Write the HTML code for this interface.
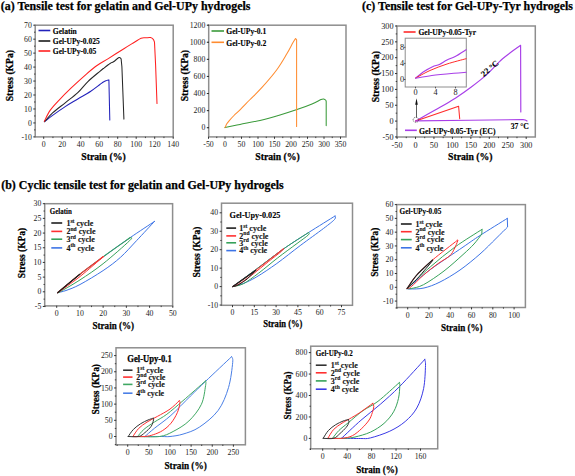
<!DOCTYPE html><html><head><meta charset="utf-8"><style>html,body{margin:0;padding:0;background:#fff;width:575px;height:476px;overflow:hidden}svg{display:block}text{font-family:"Liberation Serif",serif}</style></head><body>
<svg width="575" height="476" viewBox="0 0 575 476">
<rect width="575" height="476" fill="#fff"/>
<text x="0.8" y="10" font-size="12.2" font-weight="bold" stroke="#000" stroke-width="0.25" textLength="249.6" lengthAdjust="spacingAndGlyphs">(a) Tensile test for gelatin and Gel-UPy hydrogels</text>
<text x="362.1" y="9.7" font-size="12.2" font-weight="bold" stroke="#000" stroke-width="0.25" textLength="210.8" lengthAdjust="spacingAndGlyphs">(c) Tensile test for Gel-UPy-Tyr hydrogels</text>
<text x="1.25" y="189.2" font-size="12.2" font-weight="bold" stroke="#000" stroke-width="0.25" textLength="282.5" lengthAdjust="spacingAndGlyphs">(b) Cyclic tensile test for gelatin and Gel-UPy hydrogels</text>
<rect x="35.2" y="25.2" width="138" height="111.7" fill="none" stroke="#8e8e8e" stroke-width="1.5"/>
<line x1="43.7" y1="136.7" x2="43.7" y2="138.8" stroke="#333333" stroke-width="1"/>
<text x="43.7" y="146.9" font-size="7.8" text-anchor="middle" fill="#222222">0</text>
<line x1="62.2" y1="136.7" x2="62.2" y2="138.8" stroke="#333333" stroke-width="1"/>
<text x="62.2" y="146.9" font-size="7.8" text-anchor="middle" fill="#222222">20</text>
<line x1="80.7" y1="136.7" x2="80.7" y2="138.8" stroke="#333333" stroke-width="1"/>
<text x="80.7" y="146.9" font-size="7.8" text-anchor="middle" fill="#222222">40</text>
<line x1="99.2" y1="136.7" x2="99.2" y2="138.8" stroke="#333333" stroke-width="1"/>
<text x="99.2" y="146.9" font-size="7.8" text-anchor="middle" fill="#222222">60</text>
<line x1="117.7" y1="136.7" x2="117.7" y2="138.8" stroke="#333333" stroke-width="1"/>
<text x="117.7" y="146.9" font-size="7.8" text-anchor="middle" fill="#222222">80</text>
<line x1="136.2" y1="136.7" x2="136.2" y2="138.8" stroke="#333333" stroke-width="1"/>
<text x="136.2" y="146.9" font-size="7.8" text-anchor="middle" fill="#222222">100</text>
<line x1="154.7" y1="136.7" x2="154.7" y2="138.8" stroke="#333333" stroke-width="1"/>
<text x="154.7" y="146.9" font-size="7.8" text-anchor="middle" fill="#222222">120</text>
<line x1="173.2" y1="136.7" x2="173.2" y2="138.8" stroke="#333333" stroke-width="1"/>
<text x="173.2" y="146.9" font-size="7.8" text-anchor="middle" fill="#222222">140</text>
<line x1="52.95" y1="136.7" x2="52.95" y2="138.1" stroke="#333333" stroke-width="0.9"/>
<line x1="71.45" y1="136.7" x2="71.45" y2="138.1" stroke="#333333" stroke-width="0.9"/>
<line x1="89.95" y1="136.7" x2="89.95" y2="138.1" stroke="#333333" stroke-width="0.9"/>
<line x1="108.45" y1="136.7" x2="108.45" y2="138.1" stroke="#333333" stroke-width="0.9"/>
<line x1="126.95" y1="136.7" x2="126.95" y2="138.1" stroke="#333333" stroke-width="0.9"/>
<line x1="145.45" y1="136.7" x2="145.45" y2="138.1" stroke="#333333" stroke-width="0.9"/>
<line x1="163.95" y1="136.7" x2="163.95" y2="138.1" stroke="#333333" stroke-width="0.9"/>
<line x1="33.3" y1="136.9" x2="35.4" y2="136.9" stroke="#333333" stroke-width="1"/>
<text x="31.8" y="139.55" font-size="7.8" text-anchor="end" fill="#222222">-10</text>
<line x1="33.3" y1="122.94" x2="35.4" y2="122.94" stroke="#333333" stroke-width="1"/>
<text x="31.8" y="125.59" font-size="7.8" text-anchor="end" fill="#222222">0</text>
<line x1="33.3" y1="108.98" x2="35.4" y2="108.98" stroke="#333333" stroke-width="1"/>
<text x="31.8" y="111.63" font-size="7.8" text-anchor="end" fill="#222222">10</text>
<line x1="33.3" y1="95.01" x2="35.4" y2="95.01" stroke="#333333" stroke-width="1"/>
<text x="31.8" y="97.66" font-size="7.8" text-anchor="end" fill="#222222">20</text>
<line x1="33.3" y1="81.05" x2="35.4" y2="81.05" stroke="#333333" stroke-width="1"/>
<text x="31.8" y="83.7" font-size="7.8" text-anchor="end" fill="#222222">30</text>
<line x1="33.3" y1="67.09" x2="35.4" y2="67.09" stroke="#333333" stroke-width="1"/>
<text x="31.8" y="69.74" font-size="7.8" text-anchor="end" fill="#222222">40</text>
<line x1="33.3" y1="53.12" x2="35.4" y2="53.12" stroke="#333333" stroke-width="1"/>
<text x="31.8" y="55.78" font-size="7.8" text-anchor="end" fill="#222222">50</text>
<line x1="33.3" y1="39.16" x2="35.4" y2="39.16" stroke="#333333" stroke-width="1"/>
<text x="31.8" y="41.81" font-size="7.8" text-anchor="end" fill="#222222">60</text>
<line x1="33.3" y1="25.2" x2="35.4" y2="25.2" stroke="#333333" stroke-width="1"/>
<text x="31.8" y="27.85" font-size="7.8" text-anchor="end" fill="#222222">70</text>
<line x1="34" y1="129.92" x2="35.4" y2="129.92" stroke="#333333" stroke-width="0.9"/>
<line x1="34" y1="115.96" x2="35.4" y2="115.96" stroke="#333333" stroke-width="0.9"/>
<line x1="34" y1="101.99" x2="35.4" y2="101.99" stroke="#333333" stroke-width="0.9"/>
<line x1="34" y1="88.03" x2="35.4" y2="88.03" stroke="#333333" stroke-width="0.9"/>
<line x1="34" y1="74.07" x2="35.4" y2="74.07" stroke="#333333" stroke-width="0.9"/>
<line x1="34" y1="60.11" x2="35.4" y2="60.11" stroke="#333333" stroke-width="0.9"/>
<line x1="34" y1="46.14" x2="35.4" y2="46.14" stroke="#333333" stroke-width="0.9"/>
<line x1="34" y1="32.18" x2="35.4" y2="32.18" stroke="#333333" stroke-width="0.9"/>
<text x="103.5" y="160" font-size="9.7" font-weight="bold" stroke="#000" stroke-width="0.25" text-anchor="middle" textLength="44.5" lengthAdjust="spacingAndGlyphs">Strain (%)</text>
<text x="13.5" y="75.7" font-size="9.7" font-weight="bold" stroke="#000" stroke-width="0.25" text-anchor="middle" textLength="51.2" lengthAdjust="spacingAndGlyphs" transform="rotate(-90 13.5 75.7)">Stress (KPa)</text>
<path d="M44.4 121.7C45.77 120.65 49.13 117.92 52.6 115.4C56.07 112.88 61 109.33 65.2 106.6C69.4 103.87 73.6 101.52 77.8 99C82 96.48 86.72 93.92 90.4 91.5C94.08 89.08 97.73 86.08 99.9 84.5C102.07 82.92 102.4 82.63 103.4 82C104.4 81.37 104.98 81.05 105.9 80.7C106.82 80.35 108.4 80.03 108.9 79.9L109.8 119.9" fill="none" stroke="#2222bb" stroke-width="1.05" stroke-linejoin="round" stroke-linecap="round"/>
<path d="M44.4 121.7C45.77 120.23 49.13 116.05 52.6 112.9C56.07 109.75 61 106.17 65.2 102.8C69.4 99.43 74.02 96.23 77.8 92.7C81.58 89.17 84.22 85.17 87.9 81.6C91.58 78.03 97.32 73.48 99.9 71.3C102.48 69.12 101.7 69.8 103.4 68.5C105.1 67.2 108.42 64.62 110.1 63.5C111.78 62.38 112.02 62.78 113.5 61.8C114.98 60.82 117.73 58.1 119 57.6C120.27 57.1 120.75 58.6 121.1 58.8L121.9 66.8L123.9 119.1" fill="none" stroke="#262626" stroke-width="1.05" stroke-linejoin="round" stroke-linecap="round"/>
<path d="M44.4 121.2C45.35 119.4 47.68 113.88 50.1 110.4C52.52 106.92 55.33 104.08 58.9 100.3C62.47 96.52 66.87 92.12 71.5 87.7C76.13 83.28 82.45 77.5 86.7 73.8C90.95 70.1 93.4 68.03 97 65.5C100.6 62.97 103.82 61.4 108.3 58.6C112.78 55.8 119.62 51.38 123.9 48.7C128.18 46.02 131.13 44.25 134 42.5C136.87 40.75 139.1 38.98 141.1 38.2C143.1 37.42 144.43 37.9 146 37.8C147.57 37.7 149.28 37.35 150.5 37.6C151.72 37.85 152.63 38.53 153.3 39.3C153.97 40.07 154.3 41.72 154.5 42.2L155.6 65L157 103.5" fill="none" stroke="#ff2020" stroke-width="1.05" stroke-linejoin="round" stroke-linecap="round"/>
<line x1="38.5" y1="30.5" x2="50.3" y2="30.5" stroke="#2222bb" stroke-width="1.6"/>
<line x1="38.5" y1="41" x2="50.3" y2="41" stroke="#1a1a1a" stroke-width="1.6"/>
<line x1="38.5" y1="51" x2="50.3" y2="51" stroke="#ff2020" stroke-width="1.6"/>
<text x="52.8" y="33.8" font-size="7.7" font-weight="bold" stroke="#000" stroke-width="0.12" textLength="24" lengthAdjust="spacingAndGlyphs">Gelatin</text>
<text x="52.8" y="44" font-size="7.7" font-weight="bold" stroke="#000" stroke-width="0.12" textLength="46.9" lengthAdjust="spacingAndGlyphs">Gel-UPy-0.025</text>
<text x="52.8" y="54" font-size="7.7" font-weight="bold" stroke="#000" stroke-width="0.12" textLength="43.4" lengthAdjust="spacingAndGlyphs">Gel-UPy-0.05</text>
<rect x="208.7" y="25.2" width="137.3" height="111.7" fill="none" stroke="#8e8e8e" stroke-width="1.5"/>
<line x1="208.5" y1="136.7" x2="208.5" y2="138.8" stroke="#333333" stroke-width="1"/>
<text x="208.5" y="146.9" font-size="7.8" text-anchor="middle" fill="#222222">-50</text>
<line x1="225" y1="136.7" x2="225" y2="138.8" stroke="#333333" stroke-width="1"/>
<text x="225" y="146.9" font-size="7.8" text-anchor="middle" fill="#222222">0</text>
<line x1="241.5" y1="136.7" x2="241.5" y2="138.8" stroke="#333333" stroke-width="1"/>
<text x="241.5" y="146.9" font-size="7.8" text-anchor="middle" fill="#222222">50</text>
<line x1="258" y1="136.7" x2="258" y2="138.8" stroke="#333333" stroke-width="1"/>
<text x="258" y="146.9" font-size="7.8" text-anchor="middle" fill="#222222">100</text>
<line x1="274.5" y1="136.7" x2="274.5" y2="138.8" stroke="#333333" stroke-width="1"/>
<text x="274.5" y="146.9" font-size="7.8" text-anchor="middle" fill="#222222">150</text>
<line x1="291" y1="136.7" x2="291" y2="138.8" stroke="#333333" stroke-width="1"/>
<text x="291" y="146.9" font-size="7.8" text-anchor="middle" fill="#222222">200</text>
<line x1="307.5" y1="136.7" x2="307.5" y2="138.8" stroke="#333333" stroke-width="1"/>
<text x="307.5" y="146.9" font-size="7.8" text-anchor="middle" fill="#222222">250</text>
<line x1="324" y1="136.7" x2="324" y2="138.8" stroke="#333333" stroke-width="1"/>
<text x="324" y="146.9" font-size="7.8" text-anchor="middle" fill="#222222">300</text>
<line x1="340.5" y1="136.7" x2="340.5" y2="138.8" stroke="#333333" stroke-width="1"/>
<text x="340.5" y="146.9" font-size="7.8" text-anchor="middle" fill="#222222">350</text>
<line x1="216.75" y1="136.7" x2="216.75" y2="138.1" stroke="#333333" stroke-width="0.9"/>
<line x1="233.25" y1="136.7" x2="233.25" y2="138.1" stroke="#333333" stroke-width="0.9"/>
<line x1="249.75" y1="136.7" x2="249.75" y2="138.1" stroke="#333333" stroke-width="0.9"/>
<line x1="266.25" y1="136.7" x2="266.25" y2="138.1" stroke="#333333" stroke-width="0.9"/>
<line x1="282.75" y1="136.7" x2="282.75" y2="138.1" stroke="#333333" stroke-width="0.9"/>
<line x1="299.25" y1="136.7" x2="299.25" y2="138.1" stroke="#333333" stroke-width="0.9"/>
<line x1="315.75" y1="136.7" x2="315.75" y2="138.1" stroke="#333333" stroke-width="0.9"/>
<line x1="332.25" y1="136.7" x2="332.25" y2="138.1" stroke="#333333" stroke-width="0.9"/>
<line x1="206.8" y1="127.7" x2="208.9" y2="127.7" stroke="#333333" stroke-width="1"/>
<text x="205.3" y="130.35" font-size="7.8" text-anchor="end" fill="#222222">0</text>
<line x1="206.8" y1="110.62" x2="208.9" y2="110.62" stroke="#333333" stroke-width="1"/>
<text x="205.3" y="113.27" font-size="7.8" text-anchor="end" fill="#222222">200</text>
<line x1="206.8" y1="93.53" x2="208.9" y2="93.53" stroke="#333333" stroke-width="1"/>
<text x="205.3" y="96.19" font-size="7.8" text-anchor="end" fill="#222222">400</text>
<line x1="206.8" y1="76.45" x2="208.9" y2="76.45" stroke="#333333" stroke-width="1"/>
<text x="205.3" y="79.1" font-size="7.8" text-anchor="end" fill="#222222">600</text>
<line x1="206.8" y1="59.37" x2="208.9" y2="59.37" stroke="#333333" stroke-width="1"/>
<text x="205.3" y="62.02" font-size="7.8" text-anchor="end" fill="#222222">800</text>
<line x1="206.8" y1="42.28" x2="208.9" y2="42.28" stroke="#333333" stroke-width="1"/>
<text x="205.3" y="44.94" font-size="7.8" text-anchor="end" fill="#222222">1000</text>
<line x1="206.8" y1="25.2" x2="208.9" y2="25.2" stroke="#333333" stroke-width="1"/>
<text x="205.3" y="27.85" font-size="7.8" text-anchor="end" fill="#222222">1200</text>
<line x1="207.5" y1="127.7" x2="208.9" y2="127.7" stroke="#333333" stroke-width="0.9"/>
<line x1="207.5" y1="110.62" x2="208.9" y2="110.62" stroke="#333333" stroke-width="0.9"/>
<line x1="207.5" y1="93.53" x2="208.9" y2="93.53" stroke="#333333" stroke-width="0.9"/>
<line x1="207.5" y1="76.45" x2="208.9" y2="76.45" stroke="#333333" stroke-width="0.9"/>
<line x1="207.5" y1="59.37" x2="208.9" y2="59.37" stroke="#333333" stroke-width="0.9"/>
<line x1="207.5" y1="42.28" x2="208.9" y2="42.28" stroke="#333333" stroke-width="0.9"/>
<line x1="207.5" y1="25.2" x2="208.9" y2="25.2" stroke="#333333" stroke-width="0.9"/>
<text x="277.5" y="160" font-size="9.7" font-weight="bold" stroke="#000" stroke-width="0.25" text-anchor="middle" textLength="44.5" lengthAdjust="spacingAndGlyphs">Strain (%)</text>
<text x="188.5" y="75.6" font-size="9.7" font-weight="bold" stroke="#000" stroke-width="0.25" text-anchor="middle" textLength="51.2" lengthAdjust="spacingAndGlyphs" transform="rotate(-90 188.5 75.6)">Stress (KPa)</text>
<path d="M225 127.6C227.5 127.07 234.17 125.6 240 124.4C245.83 123.2 253.33 121.97 260 120.4C266.67 118.83 273.83 116.8 280 115C286.17 113.2 291.67 111.43 297 109.6C302.33 107.77 308 105.67 312 104C316 102.33 319.08 100.43 321 99.6C322.92 98.77 322.7 98.9 323.5 99C324.3 99.1 325.42 100 325.8 100.2L326.2 101.5L326.2 125.6" fill="none" stroke="#3a9a3a" stroke-width="1.05" stroke-linejoin="round" stroke-linecap="round"/>
<path d="M225 127.6C225.3 126.97 226.05 125.02 226.8 123.8C227.55 122.58 228.3 121.68 229.5 120.3C230.7 118.92 232.25 117.25 234 115.5C235.75 113.75 237.4 112.38 240 109.8C242.6 107.22 245.93 103.73 249.6 100C253.27 96.27 257.47 92.45 262 87.4C266.53 82.35 272.63 75.35 276.8 69.7C280.97 64.05 284.3 58.03 287 53.5C289.7 48.97 291.57 45 293 42.5C294.43 40 295.17 39.17 295.6 38.5L296.6 39.8L296.6 126.4" fill="none" stroke="#ff8c30" stroke-width="1.05" stroke-linejoin="round" stroke-linecap="round"/>
<line x1="211.5" y1="31" x2="224" y2="31" stroke="#3a9a3a" stroke-width="1.6"/>
<line x1="211.5" y1="42.3" x2="224" y2="42.3" stroke="#ff8c30" stroke-width="1.6"/>
<text x="226.3" y="34.3" font-size="7.7" font-weight="bold" stroke="#000" stroke-width="0.12" textLength="40" lengthAdjust="spacingAndGlyphs">Gel-UPy-0.1</text>
<text x="226.3" y="45.6" font-size="7.7" font-weight="bold" stroke="#000" stroke-width="0.12" textLength="40" lengthAdjust="spacingAndGlyphs">Gel-UPy-0.2</text>
<rect x="396.9" y="26" width="138.4" height="111" fill="none" stroke="#8e8e8e" stroke-width="1.5"/>
<line x1="397.05" y1="136.8" x2="397.05" y2="138.9" stroke="#333333" stroke-width="1"/>
<text x="397.05" y="147.6" font-size="8.2" text-anchor="middle" fill="#222222">-50</text>
<line x1="415.5" y1="136.8" x2="415.5" y2="138.9" stroke="#333333" stroke-width="1"/>
<text x="415.5" y="147.6" font-size="8.2" text-anchor="middle" fill="#222222">0</text>
<line x1="433.95" y1="136.8" x2="433.95" y2="138.9" stroke="#333333" stroke-width="1"/>
<text x="433.95" y="147.6" font-size="8.2" text-anchor="middle" fill="#222222">50</text>
<line x1="452.4" y1="136.8" x2="452.4" y2="138.9" stroke="#333333" stroke-width="1"/>
<text x="452.4" y="147.6" font-size="8.2" text-anchor="middle" fill="#222222">100</text>
<line x1="470.85" y1="136.8" x2="470.85" y2="138.9" stroke="#333333" stroke-width="1"/>
<text x="470.85" y="147.6" font-size="8.2" text-anchor="middle" fill="#222222">150</text>
<line x1="489.3" y1="136.8" x2="489.3" y2="138.9" stroke="#333333" stroke-width="1"/>
<text x="489.3" y="147.6" font-size="8.2" text-anchor="middle" fill="#222222">200</text>
<line x1="507.75" y1="136.8" x2="507.75" y2="138.9" stroke="#333333" stroke-width="1"/>
<text x="507.75" y="147.6" font-size="8.2" text-anchor="middle" fill="#222222">250</text>
<line x1="526.2" y1="136.8" x2="526.2" y2="138.9" stroke="#333333" stroke-width="1"/>
<text x="526.2" y="147.6" font-size="8.2" text-anchor="middle" fill="#222222">300</text>
<line x1="406.27" y1="136.8" x2="406.27" y2="138.2" stroke="#333333" stroke-width="0.9"/>
<line x1="424.73" y1="136.8" x2="424.73" y2="138.2" stroke="#333333" stroke-width="0.9"/>
<line x1="443.18" y1="136.8" x2="443.18" y2="138.2" stroke="#333333" stroke-width="0.9"/>
<line x1="461.62" y1="136.8" x2="461.62" y2="138.2" stroke="#333333" stroke-width="0.9"/>
<line x1="480.08" y1="136.8" x2="480.08" y2="138.2" stroke="#333333" stroke-width="0.9"/>
<line x1="498.53" y1="136.8" x2="498.53" y2="138.2" stroke="#333333" stroke-width="0.9"/>
<line x1="516.98" y1="136.8" x2="516.98" y2="138.2" stroke="#333333" stroke-width="0.9"/>
<line x1="395" y1="136.95" x2="397.1" y2="136.95" stroke="#333333" stroke-width="1"/>
<text x="393.5" y="139.74" font-size="8.2" text-anchor="end" fill="#222222">-50</text>
<line x1="395" y1="121.1" x2="397.1" y2="121.1" stroke="#333333" stroke-width="1"/>
<text x="393.5" y="123.89" font-size="8.2" text-anchor="end" fill="#222222">0</text>
<line x1="395" y1="105.25" x2="397.1" y2="105.25" stroke="#333333" stroke-width="1"/>
<text x="393.5" y="108.04" font-size="8.2" text-anchor="end" fill="#222222">50</text>
<line x1="395" y1="89.4" x2="397.1" y2="89.4" stroke="#333333" stroke-width="1"/>
<text x="393.5" y="92.19" font-size="8.2" text-anchor="end" fill="#222222">100</text>
<line x1="395" y1="73.55" x2="397.1" y2="73.55" stroke="#333333" stroke-width="1"/>
<text x="393.5" y="76.34" font-size="8.2" text-anchor="end" fill="#222222">150</text>
<line x1="395" y1="57.7" x2="397.1" y2="57.7" stroke="#333333" stroke-width="1"/>
<text x="393.5" y="60.49" font-size="8.2" text-anchor="end" fill="#222222">200</text>
<line x1="395" y1="41.85" x2="397.1" y2="41.85" stroke="#333333" stroke-width="1"/>
<text x="393.5" y="44.64" font-size="8.2" text-anchor="end" fill="#222222">250</text>
<line x1="395" y1="26" x2="397.1" y2="26" stroke="#333333" stroke-width="1"/>
<text x="393.5" y="28.79" font-size="8.2" text-anchor="end" fill="#222222">300</text>
<line x1="395.7" y1="129.03" x2="397.1" y2="129.03" stroke="#333333" stroke-width="0.9"/>
<line x1="395.7" y1="113.17" x2="397.1" y2="113.17" stroke="#333333" stroke-width="0.9"/>
<line x1="395.7" y1="97.32" x2="397.1" y2="97.32" stroke="#333333" stroke-width="0.9"/>
<line x1="395.7" y1="81.47" x2="397.1" y2="81.47" stroke="#333333" stroke-width="0.9"/>
<line x1="395.7" y1="65.62" x2="397.1" y2="65.62" stroke="#333333" stroke-width="0.9"/>
<line x1="395.7" y1="49.77" x2="397.1" y2="49.77" stroke="#333333" stroke-width="0.9"/>
<line x1="395.7" y1="33.92" x2="397.1" y2="33.92" stroke="#333333" stroke-width="0.9"/>
<text x="470.3" y="160" font-size="9.7" font-weight="bold" stroke="#000" stroke-width="0.25" text-anchor="middle" textLength="44.5" lengthAdjust="spacingAndGlyphs">Strain (%)</text>
<text x="379" y="76.7" font-size="9.7" font-weight="bold" stroke="#000" stroke-width="0.25" text-anchor="middle" textLength="51.2" lengthAdjust="spacingAndGlyphs" transform="rotate(-90 379 76.7)">Stress (KPa)</text>
<path d="M415.7 120.9C419.75 118.63 433.33 111.13 440 107.3C446.67 103.47 450.48 101.28 455.7 97.9C460.92 94.52 466.08 90.92 471.3 87C476.52 83.08 481.78 79.1 487 74.4C492.22 69.7 497 63.65 502.6 58.8C508.2 53.95 517.6 47.55 520.6 45.3L520.8 111.9" fill="none" stroke="#a83ee8" stroke-width="1.15" stroke-linejoin="round" stroke-linecap="round"/>
<path d="M415.7 120.9L458.6 106.2L459.7 118.7" fill="none" stroke="#ff2a2a" stroke-width="1.05" stroke-linejoin="round" stroke-linecap="round"/>
<path d="M415.7 120.9L470 120.2L523 119.6Q525.5 119.6 527 121" fill="none" stroke="#a83ee8" stroke-width="1.15" stroke-linejoin="round" stroke-linecap="round"/>
<rect x="405.2" y="38.2" width="61.1" height="48.8" fill="#fff" stroke="#8e8e8e" stroke-width="1.0"/>
<line x1="415.5" y1="86.8" x2="415.5" y2="88.4" stroke="#333333" stroke-width="0.8"/>
<text x="415.5" y="95" font-size="8.2" text-anchor="middle" fill="#222222">0</text>
<line x1="403.8" y1="79.5" x2="405.4" y2="79.5" stroke="#333333" stroke-width="0.8"/>
<text x="404.2" y="82.3" font-size="8.2" text-anchor="end" fill="#222222">0</text>
<line x1="435.5" y1="86.8" x2="435.5" y2="88.4" stroke="#333333" stroke-width="0.8"/>
<text x="435.5" y="95" font-size="8.2" text-anchor="middle" fill="#222222">4</text>
<line x1="403.8" y1="63.4" x2="405.4" y2="63.4" stroke="#333333" stroke-width="0.8"/>
<text x="404.2" y="66.2" font-size="8.2" text-anchor="end" fill="#222222">4</text>
<line x1="455.5" y1="86.8" x2="455.5" y2="88.4" stroke="#333333" stroke-width="0.8"/>
<text x="455.5" y="95" font-size="8.2" text-anchor="middle" fill="#222222">8</text>
<line x1="403.8" y1="47.3" x2="405.4" y2="47.3" stroke="#333333" stroke-width="0.8"/>
<text x="404.2" y="50.1" font-size="8.2" text-anchor="end" fill="#222222">8</text>
<path d="M415.7 78C417.08 76.92 421.18 73.38 424 71.5C426.82 69.62 430.03 67.88 432.6 66.7C435.17 65.52 437 65.52 439.4 64.4C441.8 63.28 444.37 61.32 447 60C449.63 58.68 452.02 58.22 455.2 56.5C458.38 54.78 464.28 50.83 466.1 49.7" fill="none" stroke="#a83ee8" stroke-width="1.1" stroke-linejoin="round" stroke-linecap="round"/>
<path d="M415.7 78C418.08 76.75 424.78 72.83 430 70.5C435.22 68.17 440.98 65.97 447 64C453.02 62.03 462.92 59.58 466.1 58.7" fill="none" stroke="#ff2a2a" stroke-width="1" stroke-linejoin="round" stroke-linecap="round"/>
<path d="M415.7 78.3C418.38 77.83 425.45 76.35 431.8 75.5C438.15 74.65 448.08 73.73 453.8 73.2C459.52 72.67 464.05 72.45 466.1 72.3" fill="none" stroke="#a83ee8" stroke-width="1.1" stroke-linejoin="round" stroke-linecap="round"/>
<line x1="403.6" y1="32" x2="415.6" y2="32" stroke="#ff2a2a" stroke-width="1.6"/>
<text x="418.5" y="34.8" font-size="7.9" font-weight="bold" stroke="#000" stroke-width="0.12" textLength="57.5" lengthAdjust="spacingAndGlyphs">Gel-UPy-0.05-Tyr</text>
<line x1="405" y1="130.3" x2="416.8" y2="130.3" stroke="#a83ee8" stroke-width="1.6"/>
<text x="419" y="133.5" font-size="7.9" font-weight="bold" stroke="#000" stroke-width="0.12" textLength="76.5" lengthAdjust="spacingAndGlyphs">Gel-UPy-0.05-Tyr (EC)</text>
<text x="491.5" y="70.5" font-size="8.2" font-weight="bold" stroke="#000" stroke-width="0.12" text-anchor="middle" textLength="20.5" lengthAdjust="spacingAndGlyphs" transform="rotate(-40.5 491.5 70.5)">22 °C</text>
<text x="519.8" y="129" font-size="8.2" font-weight="bold" stroke="#000" stroke-width="0.12" text-anchor="middle" textLength="18.3" lengthAdjust="spacingAndGlyphs">37 °C</text>
<line x1="416.5" y1="117.5" x2="416.5" y2="103.5" stroke="#333" stroke-width="0.8"/>
<path d="M415.2 104.8L416.5 98.3L417.8 104.8Z" fill="#111"/>
<ellipse cx="415.9" cy="119.8" rx="2.8" ry="2.5" fill="none" stroke="#333" stroke-width="0.7" stroke-dasharray="1.2 0.8"/>
<rect x="44.7" y="203.7" width="127.9" height="102.2" fill="none" stroke="#8e8e8e" stroke-width="1.5"/>
<line x1="56.7" y1="305.7" x2="56.7" y2="307.8" stroke="#333333" stroke-width="1"/>
<text x="56.7" y="315.9" font-size="7.8" text-anchor="middle" fill="#222222">0</text>
<line x1="79.92" y1="305.7" x2="79.92" y2="307.8" stroke="#333333" stroke-width="1"/>
<text x="79.92" y="315.9" font-size="7.8" text-anchor="middle" fill="#222222">10</text>
<line x1="103.14" y1="305.7" x2="103.14" y2="307.8" stroke="#333333" stroke-width="1"/>
<text x="103.14" y="315.9" font-size="7.8" text-anchor="middle" fill="#222222">20</text>
<line x1="126.36" y1="305.7" x2="126.36" y2="307.8" stroke="#333333" stroke-width="1"/>
<text x="126.36" y="315.9" font-size="7.8" text-anchor="middle" fill="#222222">30</text>
<line x1="149.58" y1="305.7" x2="149.58" y2="307.8" stroke="#333333" stroke-width="1"/>
<text x="149.58" y="315.9" font-size="7.8" text-anchor="middle" fill="#222222">40</text>
<line x1="172.8" y1="305.7" x2="172.8" y2="307.8" stroke="#333333" stroke-width="1"/>
<text x="172.8" y="315.9" font-size="7.8" text-anchor="middle" fill="#222222">50</text>
<line x1="45.09" y1="305.7" x2="45.09" y2="307.1" stroke="#333333" stroke-width="0.9"/>
<line x1="68.31" y1="305.7" x2="68.31" y2="307.1" stroke="#333333" stroke-width="0.9"/>
<line x1="91.53" y1="305.7" x2="91.53" y2="307.1" stroke="#333333" stroke-width="0.9"/>
<line x1="114.75" y1="305.7" x2="114.75" y2="307.1" stroke="#333333" stroke-width="0.9"/>
<line x1="137.97" y1="305.7" x2="137.97" y2="307.1" stroke="#333333" stroke-width="0.9"/>
<line x1="161.19" y1="305.7" x2="161.19" y2="307.1" stroke="#333333" stroke-width="0.9"/>
<line x1="42.8" y1="306.48" x2="44.9" y2="306.48" stroke="#333333" stroke-width="1"/>
<text x="41.3" y="309.14" font-size="7.8" text-anchor="end" fill="#222222">-5</text>
<line x1="42.8" y1="291.8" x2="44.9" y2="291.8" stroke="#333333" stroke-width="1"/>
<text x="41.3" y="294.45" font-size="7.8" text-anchor="end" fill="#222222">0</text>
<line x1="42.8" y1="277.12" x2="44.9" y2="277.12" stroke="#333333" stroke-width="1"/>
<text x="41.3" y="279.77" font-size="7.8" text-anchor="end" fill="#222222">5</text>
<line x1="42.8" y1="262.43" x2="44.9" y2="262.43" stroke="#333333" stroke-width="1"/>
<text x="41.3" y="265.09" font-size="7.8" text-anchor="end" fill="#222222">10</text>
<line x1="42.8" y1="247.75" x2="44.9" y2="247.75" stroke="#333333" stroke-width="1"/>
<text x="41.3" y="250.4" font-size="7.8" text-anchor="end" fill="#222222">15</text>
<line x1="42.8" y1="233.07" x2="44.9" y2="233.07" stroke="#333333" stroke-width="1"/>
<text x="41.3" y="235.72" font-size="7.8" text-anchor="end" fill="#222222">20</text>
<line x1="42.8" y1="218.38" x2="44.9" y2="218.38" stroke="#333333" stroke-width="1"/>
<text x="41.3" y="221.04" font-size="7.8" text-anchor="end" fill="#222222">25</text>
<line x1="42.8" y1="203.7" x2="44.9" y2="203.7" stroke="#333333" stroke-width="1"/>
<text x="41.3" y="206.35" font-size="7.8" text-anchor="end" fill="#222222">30</text>
<line x1="43.5" y1="299.14" x2="44.9" y2="299.14" stroke="#333333" stroke-width="0.9"/>
<line x1="43.5" y1="284.46" x2="44.9" y2="284.46" stroke="#333333" stroke-width="0.9"/>
<line x1="43.5" y1="269.77" x2="44.9" y2="269.77" stroke="#333333" stroke-width="0.9"/>
<line x1="43.5" y1="255.09" x2="44.9" y2="255.09" stroke="#333333" stroke-width="0.9"/>
<line x1="43.5" y1="240.41" x2="44.9" y2="240.41" stroke="#333333" stroke-width="0.9"/>
<line x1="43.5" y1="225.72" x2="44.9" y2="225.72" stroke="#333333" stroke-width="0.9"/>
<line x1="43.5" y1="211.04" x2="44.9" y2="211.04" stroke="#333333" stroke-width="0.9"/>
<text x="113.3" y="328.6" font-size="10.3" font-weight="bold" stroke="#000" stroke-width="0.25" text-anchor="middle" textLength="41.6" lengthAdjust="spacingAndGlyphs">Strain (%)</text>
<text x="24.6" y="253" font-size="10.3" font-weight="bold" stroke="#000" stroke-width="0.25" text-anchor="middle" textLength="50.4" lengthAdjust="spacingAndGlyphs" transform="rotate(-90 24.6 253)">Stress (KPa)</text>
<text x="49.8" y="214.2" font-size="8" font-weight="bold" stroke="#000" stroke-width="0.12" textLength="22" lengthAdjust="spacingAndGlyphs">Gelatin</text>
<path d="M154.5 221.4C151.52 224.6 142.27 234.62 136.6 240.6C130.93 246.58 126.08 252.3 120.5 257.3C114.92 262.3 109.85 266.07 103.1 270.6C96.35 275.13 86.18 281.18 80 284.5C73.82 287.82 69.72 289.15 66 290.5C62.28 291.85 59.08 292.25 57.7 292.6" fill="none" stroke="#3d74e6" stroke-width="1" stroke-linejoin="round" stroke-linecap="round"/>
<path d="M57.7 292.6C61.37 289.57 72.08 280.4 79.7 274.4C87.32 268.4 95.03 262.7 103.4 256.6C111.77 250.5 121.38 243.67 129.9 237.8C138.42 231.93 150.4 224.13 154.5 221.4" fill="none" stroke="#3d74e6" stroke-width="1" stroke-linejoin="round" stroke-linecap="round"/>
<path d="M129.9 237.8C129.87 238.27 134.17 236.28 129.7 240.6C125.23 244.92 111.38 257.15 103.1 263.7C94.82 270.25 87.4 275.08 80 279.9C72.6 284.72 62.25 290.48 58.7 292.6" fill="none" stroke="#36a25a" stroke-width="1" stroke-linejoin="round" stroke-linecap="round"/>
<path d="M57.7 292.6C61.37 289.57 72.08 280.4 79.7 274.4C87.32 268.4 95.03 262.7 103.4 256.6C111.77 250.5 125.48 240.93 129.9 237.8" fill="none" stroke="#36a25a" stroke-width="1.1" stroke-linejoin="round" stroke-linecap="round"/>
<path d="M103.4 256.6C99.5 259.92 87.57 270.5 80 276.5C72.43 282.5 61.67 289.92 58 292.6" fill="none" stroke="#ff3030" stroke-width="1" stroke-linejoin="round" stroke-linecap="round"/>
<path d="M57.7 292.6C61.37 289.57 72.08 280.4 79.7 274.4C87.32 268.4 99.45 259.57 103.4 256.6" fill="none" stroke="#ff3030" stroke-width="1.2" stroke-linejoin="round" stroke-linecap="round"/>
<path d="M79.7 274.4C77.75 276 71.62 280.97 68 284C64.38 287.03 59.67 291.17 58 292.6" fill="none" stroke="#1f1f1f" stroke-width="1" stroke-linejoin="round" stroke-linecap="round"/>
<path d="M57.7 292.6L79.7 274.4" fill="none" stroke="#1f1f1f" stroke-width="1.2" stroke-linejoin="round" stroke-linecap="round"/>
<line x1="51.3" y1="223" x2="62.2" y2="223" stroke="#1f1f1f" stroke-width="1.6"/>
<text x="66.4" y="225.8" font-size="8" font-weight="bold" fill="#1a1a1a" stroke="#000" stroke-width="0.12">1<tspan font-size="5.6" dy="-3.3">st</tspan><tspan dy="3.3"> cycle</tspan></text>
<line x1="51.3" y1="231.4" x2="62.2" y2="231.4" stroke="#ff3030" stroke-width="1.6"/>
<text x="66.4" y="234.2" font-size="8" font-weight="bold" fill="#1a1a1a" stroke="#000" stroke-width="0.12">2<tspan font-size="5.6" dy="-3.3">nd</tspan><tspan dy="3.3"> cycle</tspan></text>
<line x1="51.3" y1="239.2" x2="62.2" y2="239.2" stroke="#36a25a" stroke-width="1.6"/>
<text x="66.4" y="242" font-size="8" font-weight="bold" fill="#1a1a1a" stroke="#000" stroke-width="0.12">3<tspan font-size="5.6" dy="-3.3">rd</tspan><tspan dy="3.3"> cycle</tspan></text>
<line x1="51.3" y1="247.9" x2="62.2" y2="247.9" stroke="#3d74e6" stroke-width="1.6"/>
<text x="66.4" y="250.7" font-size="8" font-weight="bold" fill="#1a1a1a" stroke="#000" stroke-width="0.12">4<tspan font-size="5.6" dy="-3.3">th</tspan><tspan dy="3.3"> cycle</tspan></text>
<rect x="221.5" y="203.2" width="131" height="102.1" fill="none" stroke="#8e8e8e" stroke-width="1.5"/>
<line x1="232.5" y1="305.1" x2="232.5" y2="307.2" stroke="#333333" stroke-width="1"/>
<text x="232.5" y="315.3" font-size="7.8" text-anchor="middle" fill="#222222">0</text>
<line x1="254.3" y1="305.1" x2="254.3" y2="307.2" stroke="#333333" stroke-width="1"/>
<text x="254.3" y="315.3" font-size="7.8" text-anchor="middle" fill="#222222">15</text>
<line x1="276.1" y1="305.1" x2="276.1" y2="307.2" stroke="#333333" stroke-width="1"/>
<text x="276.1" y="315.3" font-size="7.8" text-anchor="middle" fill="#222222">30</text>
<line x1="297.9" y1="305.1" x2="297.9" y2="307.2" stroke="#333333" stroke-width="1"/>
<text x="297.9" y="315.3" font-size="7.8" text-anchor="middle" fill="#222222">45</text>
<line x1="319.7" y1="305.1" x2="319.7" y2="307.2" stroke="#333333" stroke-width="1"/>
<text x="319.7" y="315.3" font-size="7.8" text-anchor="middle" fill="#222222">60</text>
<line x1="341.5" y1="305.1" x2="341.5" y2="307.2" stroke="#333333" stroke-width="1"/>
<text x="341.5" y="315.3" font-size="7.8" text-anchor="middle" fill="#222222">75</text>
<line x1="243.4" y1="305.1" x2="243.4" y2="306.5" stroke="#333333" stroke-width="0.9"/>
<line x1="265.2" y1="305.1" x2="265.2" y2="306.5" stroke="#333333" stroke-width="0.9"/>
<line x1="287" y1="305.1" x2="287" y2="306.5" stroke="#333333" stroke-width="0.9"/>
<line x1="308.8" y1="305.1" x2="308.8" y2="306.5" stroke="#333333" stroke-width="0.9"/>
<line x1="330.6" y1="305.1" x2="330.6" y2="306.5" stroke="#333333" stroke-width="0.9"/>
<line x1="219.6" y1="305.05" x2="221.7" y2="305.05" stroke="#333333" stroke-width="1"/>
<text x="218.1" y="307.7" font-size="7.8" text-anchor="end" fill="#222222">-10</text>
<line x1="219.6" y1="286.6" x2="221.7" y2="286.6" stroke="#333333" stroke-width="1"/>
<text x="218.1" y="289.25" font-size="7.8" text-anchor="end" fill="#222222">0</text>
<line x1="219.6" y1="268.15" x2="221.7" y2="268.15" stroke="#333333" stroke-width="1"/>
<text x="218.1" y="270.8" font-size="7.8" text-anchor="end" fill="#222222">10</text>
<line x1="219.6" y1="249.7" x2="221.7" y2="249.7" stroke="#333333" stroke-width="1"/>
<text x="218.1" y="252.35" font-size="7.8" text-anchor="end" fill="#222222">20</text>
<line x1="219.6" y1="231.25" x2="221.7" y2="231.25" stroke="#333333" stroke-width="1"/>
<text x="218.1" y="233.9" font-size="7.8" text-anchor="end" fill="#222222">30</text>
<line x1="219.6" y1="212.8" x2="221.7" y2="212.8" stroke="#333333" stroke-width="1"/>
<text x="218.1" y="215.45" font-size="7.8" text-anchor="end" fill="#222222">40</text>
<line x1="220.3" y1="295.83" x2="221.7" y2="295.83" stroke="#333333" stroke-width="0.9"/>
<line x1="220.3" y1="277.38" x2="221.7" y2="277.38" stroke="#333333" stroke-width="0.9"/>
<line x1="220.3" y1="258.93" x2="221.7" y2="258.93" stroke="#333333" stroke-width="0.9"/>
<line x1="220.3" y1="240.48" x2="221.7" y2="240.48" stroke="#333333" stroke-width="0.9"/>
<line x1="220.3" y1="222.03" x2="221.7" y2="222.03" stroke="#333333" stroke-width="0.9"/>
<text x="282.8" y="326.9" font-size="10.3" font-weight="bold" stroke="#000" stroke-width="0.25" text-anchor="middle" textLength="39.1" lengthAdjust="spacingAndGlyphs">Strain (%)</text>
<text x="200" y="252" font-size="10.3" font-weight="bold" stroke="#000" stroke-width="0.25" text-anchor="middle" textLength="51" lengthAdjust="spacingAndGlyphs" transform="rotate(-90 200 252)">Stress (KPa)</text>
<text x="229.6" y="217.6" font-size="8.6" font-weight="bold" stroke="#000" stroke-width="0.12" textLength="50.8" lengthAdjust="spacingAndGlyphs">Gel-Upy-0.025</text>
<path d="M335 216C334.92 216.58 336.4 217.43 334.5 219.5C332.6 221.57 329.32 224.05 323.6 228.4C317.88 232.75 308 239.75 300.2 245.6C292.4 251.45 284.03 258.3 276.8 263.5C269.57 268.7 262.37 273.47 256.8 276.8C251.23 280.13 247.02 282 243.4 283.5C239.78 285 236.85 285.3 235.1 285.8C233.35 286.3 233.27 286.38 232.9 286.5" fill="none" stroke="#3d74e6" stroke-width="1" stroke-linejoin="round" stroke-linecap="round"/>
<path d="M232.9 286.5C236.57 283.8 246.48 276.55 254.9 270.3C263.32 264.05 274.47 255.28 283.4 249C292.33 242.72 299.9 238.1 308.5 232.6C317.1 227.1 330.58 218.77 335 216" fill="none" stroke="#3d74e6" stroke-width="1" stroke-linejoin="round" stroke-linecap="round"/>
<path d="M308.4 232.6C308.4 232.98 310.3 233.08 308.4 234.9C306.5 236.72 302.1 239.68 297 243.5C291.9 247.32 284.18 252.87 277.8 257.8C271.42 262.73 264.43 268.78 258.7 273.1C252.97 277.42 247.68 281.47 243.4 283.7C239.12 285.93 234.73 286.03 233 286.5" fill="none" stroke="#36a25a" stroke-width="1" stroke-linejoin="round" stroke-linecap="round"/>
<path d="M232.9 286.5C236.57 283.8 246.48 276.55 254.9 270.3C263.32 264.05 274.48 255.28 283.4 249C292.32 242.72 304.23 235.33 308.4 232.6" fill="none" stroke="#36a25a" stroke-width="1" stroke-linejoin="round" stroke-linecap="round"/>
<path d="M283.2 248.8C282.95 249.18 284.18 248.95 281.7 251.1C279.22 253.25 273.08 257.87 268.3 261.7C263.52 265.53 257.78 270.43 253 274.1C248.22 277.77 242.93 281.63 239.6 283.7C236.27 285.77 234.1 286.03 233 286.5" fill="none" stroke="#ff3030" stroke-width="1" stroke-linejoin="round" stroke-linecap="round"/>
<path d="M232.9 286.5C236.57 283.88 246.52 277.08 254.9 270.8C263.28 264.52 278.48 252.47 283.2 248.8" fill="none" stroke="#ff3030" stroke-width="1" stroke-linejoin="round" stroke-linecap="round"/>
<path d="M255.8 270.3C254.37 271.73 250.17 276.45 247.2 278.9C244.23 281.35 240.37 283.73 238 285C235.63 286.27 233.83 286.25 233 286.5" fill="none" stroke="#1f1f1f" stroke-width="1" stroke-linejoin="round" stroke-linecap="round"/>
<path d="M232.9 286.5L255.8 270.3" fill="none" stroke="#1f1f1f" stroke-width="1.2" stroke-linejoin="round" stroke-linecap="round"/>
<line x1="226.3" y1="228.1" x2="236.1" y2="228.1" stroke="#1f1f1f" stroke-width="1.6"/>
<text x="239.3" y="230.9" font-size="8" font-weight="bold" fill="#1a1a1a" stroke="#000" stroke-width="0.12">1<tspan font-size="5.6" dy="-3.3">st</tspan><tspan dy="3.3"> cycle</tspan></text>
<line x1="226.3" y1="235.9" x2="236.1" y2="235.9" stroke="#ff3030" stroke-width="1.6"/>
<text x="239.3" y="238.7" font-size="8" font-weight="bold" fill="#1a1a1a" stroke="#000" stroke-width="0.12">2<tspan font-size="5.6" dy="-3.3">nd</tspan><tspan dy="3.3"> cycle</tspan></text>
<line x1="226.3" y1="242.8" x2="236.1" y2="242.8" stroke="#36a25a" stroke-width="1.6"/>
<text x="239.3" y="245.6" font-size="8" font-weight="bold" fill="#1a1a1a" stroke="#000" stroke-width="0.12">3<tspan font-size="5.6" dy="-3.3">rd</tspan><tspan dy="3.3"> cycle</tspan></text>
<line x1="226.3" y1="250.6" x2="236.1" y2="250.6" stroke="#3d74e6" stroke-width="1.6"/>
<text x="239.3" y="253.4" font-size="8" font-weight="bold" fill="#1a1a1a" stroke="#000" stroke-width="0.12">4<tspan font-size="5.6" dy="-3.3">th</tspan><tspan dy="3.3"> cycle</tspan></text>
<rect x="396.7" y="204.6" width="128.7" height="102.9" fill="none" stroke="#8e8e8e" stroke-width="1.5"/>
<line x1="407.7" y1="307.3" x2="407.7" y2="309.4" stroke="#333333" stroke-width="1"/>
<text x="407.7" y="317.5" font-size="7.8" text-anchor="middle" fill="#222222">0</text>
<line x1="428.98" y1="307.3" x2="428.98" y2="309.4" stroke="#333333" stroke-width="1"/>
<text x="428.98" y="317.5" font-size="7.8" text-anchor="middle" fill="#222222">20</text>
<line x1="450.26" y1="307.3" x2="450.26" y2="309.4" stroke="#333333" stroke-width="1"/>
<text x="450.26" y="317.5" font-size="7.8" text-anchor="middle" fill="#222222">40</text>
<line x1="471.54" y1="307.3" x2="471.54" y2="309.4" stroke="#333333" stroke-width="1"/>
<text x="471.54" y="317.5" font-size="7.8" text-anchor="middle" fill="#222222">60</text>
<line x1="492.82" y1="307.3" x2="492.82" y2="309.4" stroke="#333333" stroke-width="1"/>
<text x="492.82" y="317.5" font-size="7.8" text-anchor="middle" fill="#222222">80</text>
<line x1="514.1" y1="307.3" x2="514.1" y2="309.4" stroke="#333333" stroke-width="1"/>
<text x="514.1" y="317.5" font-size="7.8" text-anchor="middle" fill="#222222">100</text>
<line x1="397.06" y1="307.3" x2="397.06" y2="308.7" stroke="#333333" stroke-width="0.9"/>
<line x1="418.34" y1="307.3" x2="418.34" y2="308.7" stroke="#333333" stroke-width="0.9"/>
<line x1="439.62" y1="307.3" x2="439.62" y2="308.7" stroke="#333333" stroke-width="0.9"/>
<line x1="460.9" y1="307.3" x2="460.9" y2="308.7" stroke="#333333" stroke-width="0.9"/>
<line x1="482.18" y1="307.3" x2="482.18" y2="308.7" stroke="#333333" stroke-width="0.9"/>
<line x1="503.46" y1="307.3" x2="503.46" y2="308.7" stroke="#333333" stroke-width="0.9"/>
<line x1="394.8" y1="301.08" x2="396.9" y2="301.08" stroke="#333333" stroke-width="1"/>
<text x="393.3" y="303.74" font-size="7.8" text-anchor="end" fill="#222222">-10</text>
<line x1="394.8" y1="287.3" x2="396.9" y2="287.3" stroke="#333333" stroke-width="1"/>
<text x="393.3" y="289.95" font-size="7.8" text-anchor="end" fill="#222222">0</text>
<line x1="394.8" y1="273.52" x2="396.9" y2="273.52" stroke="#333333" stroke-width="1"/>
<text x="393.3" y="276.17" font-size="7.8" text-anchor="end" fill="#222222">10</text>
<line x1="394.8" y1="259.73" x2="396.9" y2="259.73" stroke="#333333" stroke-width="1"/>
<text x="393.3" y="262.39" font-size="7.8" text-anchor="end" fill="#222222">20</text>
<line x1="394.8" y1="245.95" x2="396.9" y2="245.95" stroke="#333333" stroke-width="1"/>
<text x="393.3" y="248.6" font-size="7.8" text-anchor="end" fill="#222222">30</text>
<line x1="394.8" y1="232.17" x2="396.9" y2="232.17" stroke="#333333" stroke-width="1"/>
<text x="393.3" y="234.82" font-size="7.8" text-anchor="end" fill="#222222">40</text>
<line x1="394.8" y1="218.38" x2="396.9" y2="218.38" stroke="#333333" stroke-width="1"/>
<text x="393.3" y="221.04" font-size="7.8" text-anchor="end" fill="#222222">50</text>
<line x1="394.8" y1="204.6" x2="396.9" y2="204.6" stroke="#333333" stroke-width="1"/>
<text x="393.3" y="207.25" font-size="7.8" text-anchor="end" fill="#222222">60</text>
<line x1="395.5" y1="307.98" x2="396.9" y2="307.98" stroke="#333333" stroke-width="0.9"/>
<line x1="395.5" y1="294.19" x2="396.9" y2="294.19" stroke="#333333" stroke-width="0.9"/>
<line x1="395.5" y1="280.41" x2="396.9" y2="280.41" stroke="#333333" stroke-width="0.9"/>
<line x1="395.5" y1="266.62" x2="396.9" y2="266.62" stroke="#333333" stroke-width="0.9"/>
<line x1="395.5" y1="252.84" x2="396.9" y2="252.84" stroke="#333333" stroke-width="0.9"/>
<line x1="395.5" y1="239.06" x2="396.9" y2="239.06" stroke="#333333" stroke-width="0.9"/>
<line x1="395.5" y1="225.28" x2="396.9" y2="225.28" stroke="#333333" stroke-width="0.9"/>
<line x1="395.5" y1="211.49" x2="396.9" y2="211.49" stroke="#333333" stroke-width="0.9"/>
<text x="461.8" y="330.6" font-size="11" font-weight="bold" stroke="#000" stroke-width="0.25" text-anchor="middle" textLength="41.5" lengthAdjust="spacingAndGlyphs">Strain (%)</text>
<text x="378.3" y="252.3" font-size="10.3" font-weight="bold" stroke="#000" stroke-width="0.25" text-anchor="middle" textLength="49.1" lengthAdjust="spacingAndGlyphs" transform="rotate(-90 378.3 252.3)">Stress (KPa)</text>
<text x="399.6" y="214.4" font-size="8.2" font-weight="bold" stroke="#000" stroke-width="0.12" textLength="41.7" lengthAdjust="spacingAndGlyphs">Gel-UPy-0.05</text>
<path d="M507.3 218.4L507.6 227C505.67 228.92 500.6 234 496 238.5C491.4 243 486 248.75 480 254C474 259.25 466.67 265.33 460 270C453.33 274.67 446 279 440 282C434 285 429 286.83 424 288C419 289.17 412.82 288.92 410 289C407.18 289.08 407.58 288.58 407.1 288.5" fill="none" stroke="#3d74e6" stroke-width="1" stroke-linejoin="round" stroke-linecap="round"/>
<path d="M407.1 288.5C410.97 285.35 420.98 276.5 430.3 269.6C439.62 262.7 454.72 252.78 463 247.1C471.28 241.42 472.62 240.28 480 235.5C487.38 230.72 502.75 221.25 507.3 218.4" fill="none" stroke="#3d74e6" stroke-width="1" stroke-linejoin="round" stroke-linecap="round"/>
<path d="M482 229.4L481.8 234C480.5 235.67 477.13 240.57 474 244C470.87 247.43 468 250.1 463 254.6C458 259.1 450.58 265.98 444 271C437.42 276.02 428.97 281.78 423.5 284.7C418.03 287.62 413.93 287.87 411.2 288.5C408.47 289.13 407.78 288.5 407.1 288.5" fill="none" stroke="#36a25a" stroke-width="1" stroke-linejoin="round" stroke-linecap="round"/>
<path d="M407.1 288.5C410.97 284.9 422.32 273.82 430.3 266.9C438.28 259.98 446.38 253.25 455 247C463.62 240.75 477.5 232.33 482 229.4" fill="none" stroke="#36a25a" stroke-width="1" stroke-linejoin="round" stroke-linecap="round"/>
<path d="M457.4 240.3C457.45 240.4 458.23 239.43 457.7 240.9C457.17 242.37 455.57 246.58 454.2 249.1C452.83 251.62 452.33 253.48 449.5 256C446.67 258.52 441.53 261.02 437.2 264.2C432.87 267.38 427.83 271.35 423.5 275.1C419.17 278.85 413.93 284.47 411.2 286.7C408.47 288.93 407.78 288.2 407.1 288.5" fill="none" stroke="#ff3030" stroke-width="1" stroke-linejoin="round" stroke-linecap="round"/>
<path d="M407.1 288.5C408.7 286.27 412.48 279.83 416.7 275.1C420.92 270.37 425.62 265.9 432.4 260.1C439.18 254.3 453.23 243.6 457.4 240.3" fill="none" stroke="#ff3030" stroke-width="1" stroke-linejoin="round" stroke-linecap="round"/>
<path d="M432.4 260.1C432.4 260.22 433.43 259.43 432.4 260.8C431.37 262.17 428.82 265.23 426.2 268.3C423.58 271.37 419.73 276 416.7 279.2C413.67 282.4 409.45 286.12 408 287.5" fill="none" stroke="#1f1f1f" stroke-width="1" stroke-linejoin="round" stroke-linecap="round"/>
<path d="M407.1 288.5C408.7 286.27 412.48 279.83 416.7 275.1C420.92 270.37 429.78 262.6 432.4 260.1" fill="none" stroke="#1f1f1f" stroke-width="1.1" stroke-linejoin="round" stroke-linecap="round"/>
<line x1="400.9" y1="224" x2="411.7" y2="224" stroke="#1f1f1f" stroke-width="1.6"/>
<text x="415.5" y="226.8" font-size="8" font-weight="bold" fill="#1a1a1a" stroke="#000" stroke-width="0.12">1<tspan font-size="5.6" dy="-3.3">st</tspan><tspan dy="3.3"> cycle</tspan></text>
<line x1="400.9" y1="231.7" x2="411.7" y2="231.7" stroke="#ff3030" stroke-width="1.6"/>
<text x="415.5" y="234.5" font-size="8" font-weight="bold" fill="#1a1a1a" stroke="#000" stroke-width="0.12">2<tspan font-size="5.6" dy="-3.3">nd</tspan><tspan dy="3.3"> cycle</tspan></text>
<line x1="400.9" y1="239.6" x2="411.7" y2="239.6" stroke="#36a25a" stroke-width="1.6"/>
<text x="415.5" y="242.4" font-size="8" font-weight="bold" fill="#1a1a1a" stroke="#000" stroke-width="0.12">3<tspan font-size="5.6" dy="-3.3">rd</tspan><tspan dy="3.3"> cycle</tspan></text>
<line x1="400.9" y1="247.8" x2="411.7" y2="247.8" stroke="#3d74e6" stroke-width="1.6"/>
<text x="415.5" y="250.6" font-size="8" font-weight="bold" fill="#1a1a1a" stroke="#000" stroke-width="0.12">4<tspan font-size="5.6" dy="-3.3">th</tspan><tspan dy="3.3"> cycle</tspan></text>
<rect x="116" y="347.8" width="129.4" height="97" fill="none" stroke="#8e8e8e" stroke-width="1.5"/>
<line x1="127.7" y1="444.6" x2="127.7" y2="446.7" stroke="#333333" stroke-width="1"/>
<text x="127.7" y="454.8" font-size="7.8" text-anchor="middle" fill="#222222">0</text>
<line x1="148.84" y1="444.6" x2="148.84" y2="446.7" stroke="#333333" stroke-width="1"/>
<text x="148.84" y="454.8" font-size="7.8" text-anchor="middle" fill="#222222">50</text>
<line x1="169.98" y1="444.6" x2="169.98" y2="446.7" stroke="#333333" stroke-width="1"/>
<text x="169.98" y="454.8" font-size="7.8" text-anchor="middle" fill="#222222">100</text>
<line x1="191.12" y1="444.6" x2="191.12" y2="446.7" stroke="#333333" stroke-width="1"/>
<text x="191.12" y="454.8" font-size="7.8" text-anchor="middle" fill="#222222">150</text>
<line x1="212.26" y1="444.6" x2="212.26" y2="446.7" stroke="#333333" stroke-width="1"/>
<text x="212.26" y="454.8" font-size="7.8" text-anchor="middle" fill="#222222">200</text>
<line x1="233.4" y1="444.6" x2="233.4" y2="446.7" stroke="#333333" stroke-width="1"/>
<text x="233.4" y="454.8" font-size="7.8" text-anchor="middle" fill="#222222">250</text>
<line x1="117.13" y1="444.6" x2="117.13" y2="446" stroke="#333333" stroke-width="0.9"/>
<line x1="138.27" y1="444.6" x2="138.27" y2="446" stroke="#333333" stroke-width="0.9"/>
<line x1="159.41" y1="444.6" x2="159.41" y2="446" stroke="#333333" stroke-width="0.9"/>
<line x1="180.55" y1="444.6" x2="180.55" y2="446" stroke="#333333" stroke-width="0.9"/>
<line x1="201.69" y1="444.6" x2="201.69" y2="446" stroke="#333333" stroke-width="0.9"/>
<line x1="222.83" y1="444.6" x2="222.83" y2="446" stroke="#333333" stroke-width="0.9"/>
<line x1="114.1" y1="436.5" x2="116.2" y2="436.5" stroke="#333333" stroke-width="1"/>
<text x="112.6" y="439.15" font-size="7.8" text-anchor="end" fill="#222222">0</text>
<line x1="114.1" y1="420.32" x2="116.2" y2="420.32" stroke="#333333" stroke-width="1"/>
<text x="112.6" y="422.97" font-size="7.8" text-anchor="end" fill="#222222">50</text>
<line x1="114.1" y1="404.14" x2="116.2" y2="404.14" stroke="#333333" stroke-width="1"/>
<text x="112.6" y="406.79" font-size="7.8" text-anchor="end" fill="#222222">100</text>
<line x1="114.1" y1="387.96" x2="116.2" y2="387.96" stroke="#333333" stroke-width="1"/>
<text x="112.6" y="390.61" font-size="7.8" text-anchor="end" fill="#222222">150</text>
<line x1="114.1" y1="371.78" x2="116.2" y2="371.78" stroke="#333333" stroke-width="1"/>
<text x="112.6" y="374.43" font-size="7.8" text-anchor="end" fill="#222222">200</text>
<line x1="114.1" y1="355.6" x2="116.2" y2="355.6" stroke="#333333" stroke-width="1"/>
<text x="112.6" y="358.25" font-size="7.8" text-anchor="end" fill="#222222">250</text>
<line x1="114.8" y1="444.59" x2="116.2" y2="444.59" stroke="#333333" stroke-width="0.9"/>
<line x1="114.8" y1="428.41" x2="116.2" y2="428.41" stroke="#333333" stroke-width="0.9"/>
<line x1="114.8" y1="412.23" x2="116.2" y2="412.23" stroke="#333333" stroke-width="0.9"/>
<line x1="114.8" y1="396.05" x2="116.2" y2="396.05" stroke="#333333" stroke-width="0.9"/>
<line x1="114.8" y1="379.87" x2="116.2" y2="379.87" stroke="#333333" stroke-width="0.9"/>
<line x1="114.8" y1="363.69" x2="116.2" y2="363.69" stroke="#333333" stroke-width="0.9"/>
<text x="185.6" y="469.4" font-size="11" font-weight="bold" stroke="#000" stroke-width="0.25" text-anchor="middle" textLength="42.2" lengthAdjust="spacingAndGlyphs">Strain (%)</text>
<text x="98.6" y="389.2" font-size="10.5" font-weight="bold" stroke="#000" stroke-width="0.25" text-anchor="middle" textLength="50.4" lengthAdjust="spacingAndGlyphs" transform="rotate(-90 98.6 389.2)">Stress (KPa)</text>
<text x="127.3" y="361.5" font-size="9.8" font-weight="bold" stroke="#000" stroke-width="0.25" textLength="44.5" lengthAdjust="spacingAndGlyphs">Gel-Upy-0.1</text>
<path d="M231.6 356.7C231.78 357.67 233.22 357.35 232.7 362.5C232.18 367.65 230.93 379.6 228.5 387.6C226.07 395.6 222.97 403.9 218.1 410.5C213.23 417.1 205.15 423.27 199.3 427.2C193.45 431.13 187.88 432.55 183 434.1C178.12 435.65 173.55 436.1 170 436.5C166.45 436.9 165.88 436.5 161.7 436.5C157.52 436.5 147.7 436.5 144.9 436.5" fill="none" stroke="#4a7fe6" stroke-width="1" stroke-linejoin="round" stroke-linecap="round"/>
<path d="M144.9 436.5C146.47 435.15 149.97 431.92 154.3 428.4C158.63 424.88 164.88 420.78 170.9 415.4C176.92 410.02 184.6 401.8 190.4 396.1C196.2 390.4 198.83 387.77 205.7 381.2C212.57 374.63 227.28 360.78 231.6 356.7" fill="none" stroke="#4a7fe6" stroke-width="1" stroke-linejoin="round" stroke-linecap="round"/>
<path d="M205.6 380.9C205.6 381.67 206.3 381.6 205.6 385.5C204.9 389.4 204.18 398.38 201.4 404.3C198.62 410.22 193.62 416.47 188.9 421C184.18 425.53 178 428.92 173.1 431.5C168.2 434.08 165.42 435.67 159.5 436.5C153.58 437.33 141.25 436.5 137.6 436.5" fill="none" stroke="#3fa862" stroke-width="1" stroke-linejoin="round" stroke-linecap="round"/>
<path d="M137.6 436.5C138.65 435.32 141.12 431.8 143.9 429.4C146.68 427 150.48 424.62 154.3 422.1C158.12 419.58 162.02 417.87 166.8 414.3C171.58 410.73 176.53 406.27 183 400.7C189.47 395.13 201.83 384.2 205.6 380.9" fill="none" stroke="#3fa862" stroke-width="1" stroke-linejoin="round" stroke-linecap="round"/>
<path d="M179.3 400.7C179.4 401.13 180.23 401.3 179.9 403.3C179.57 405.3 178.78 409.38 177.3 412.7C175.82 416.02 173.43 420.23 171 423.2C168.57 426.17 165.65 428.58 162.7 430.5C159.75 432.42 156.27 433.7 153.3 434.7C150.33 435.7 148.3 436.2 144.9 436.5C141.5 436.8 134.9 436.5 132.9 436.5" fill="none" stroke="#ff3030" stroke-width="1" stroke-linejoin="round" stroke-linecap="round"/>
<path d="M132.9 436.5C133.87 435.15 136.35 430.8 138.7 428.4C141.05 426 143.88 424.1 147 422.1C150.12 420.1 153.57 418.57 157.4 416.4C161.23 414.23 166.35 411.72 170 409.1C173.65 406.48 177.75 402.1 179.3 400.7" fill="none" stroke="#ff3030" stroke-width="1" stroke-linejoin="round" stroke-linecap="round"/>
<path d="M153.3 418.2C153.33 418.5 153.85 418.65 153.5 420C153.15 421.35 152.63 424.2 151.2 426.3C149.77 428.4 146.98 430.9 144.9 432.6C142.82 434.3 141.48 435.85 138.7 436.5C135.92 437.15 129.95 436.5 128.2 436.5" fill="none" stroke="#333" stroke-width="1" stroke-linejoin="round" stroke-linecap="round"/>
<path d="M128.2 436.5C129.07 435.32 131.32 431.53 133.4 429.4C135.48 427.27 138.27 425.27 140.7 423.7C143.13 422.13 145.9 420.92 148 420C150.1 419.08 152.42 418.5 153.3 418.2" fill="none" stroke="#333" stroke-width="1" stroke-linejoin="round" stroke-linecap="round"/>
<line x1="123.1" y1="370.2" x2="132.5" y2="370.2" stroke="#333" stroke-width="1.6"/>
<text x="136.3" y="373" font-size="8" font-weight="bold" fill="#1a1a1a" stroke="#000" stroke-width="0.12">1<tspan font-size="5.6" dy="-3.3">st</tspan><tspan dy="3.3"> cycle</tspan></text>
<line x1="123.1" y1="377.1" x2="132.5" y2="377.1" stroke="#ff3030" stroke-width="1.6"/>
<text x="136.3" y="379.9" font-size="8" font-weight="bold" fill="#1a1a1a" stroke="#000" stroke-width="0.12">2<tspan font-size="5.6" dy="-3.3">nd</tspan><tspan dy="3.3"> cycle</tspan></text>
<line x1="123.1" y1="384.4" x2="132.5" y2="384.4" stroke="#3fa862" stroke-width="1.6"/>
<text x="136.3" y="387.2" font-size="8" font-weight="bold" fill="#1a1a1a" stroke="#000" stroke-width="0.12">3<tspan font-size="5.6" dy="-3.3">rd</tspan><tspan dy="3.3"> cycle</tspan></text>
<line x1="123.1" y1="393.2" x2="132.5" y2="393.2" stroke="#4a7fe6" stroke-width="1.6"/>
<text x="136.3" y="396" font-size="8" font-weight="bold" fill="#1a1a1a" stroke="#000" stroke-width="0.12">4<tspan font-size="5.6" dy="-3.3">th</tspan><tspan dy="3.3"> cycle</tspan></text>
<rect x="310.7" y="346.2" width="127" height="102.6" fill="none" stroke="#8e8e8e" stroke-width="1.5"/>
<line x1="322.7" y1="448.6" x2="322.7" y2="450.7" stroke="#333333" stroke-width="1"/>
<text x="322.7" y="458.8" font-size="7.8" text-anchor="middle" fill="#222222">0</text>
<line x1="347.15" y1="448.6" x2="347.15" y2="450.7" stroke="#333333" stroke-width="1"/>
<text x="347.15" y="458.8" font-size="7.8" text-anchor="middle" fill="#222222">40</text>
<line x1="371.6" y1="448.6" x2="371.6" y2="450.7" stroke="#333333" stroke-width="1"/>
<text x="371.6" y="458.8" font-size="7.8" text-anchor="middle" fill="#222222">80</text>
<line x1="396.05" y1="448.6" x2="396.05" y2="450.7" stroke="#333333" stroke-width="1"/>
<text x="396.05" y="458.8" font-size="7.8" text-anchor="middle" fill="#222222">120</text>
<line x1="420.5" y1="448.6" x2="420.5" y2="450.7" stroke="#333333" stroke-width="1"/>
<text x="420.5" y="458.8" font-size="7.8" text-anchor="middle" fill="#222222">160</text>
<line x1="310.47" y1="448.6" x2="310.47" y2="450" stroke="#333333" stroke-width="0.9"/>
<line x1="334.93" y1="448.6" x2="334.93" y2="450" stroke="#333333" stroke-width="0.9"/>
<line x1="359.38" y1="448.6" x2="359.38" y2="450" stroke="#333333" stroke-width="0.9"/>
<line x1="383.82" y1="448.6" x2="383.82" y2="450" stroke="#333333" stroke-width="0.9"/>
<line x1="408.27" y1="448.6" x2="408.27" y2="450" stroke="#333333" stroke-width="0.9"/>
<line x1="308.8" y1="438.4" x2="310.9" y2="438.4" stroke="#333333" stroke-width="1"/>
<text x="307.3" y="441.05" font-size="7.8" text-anchor="end" fill="#222222">0</text>
<line x1="308.8" y1="416.95" x2="310.9" y2="416.95" stroke="#333333" stroke-width="1"/>
<text x="307.3" y="419.6" font-size="7.8" text-anchor="end" fill="#222222">200</text>
<line x1="308.8" y1="395.5" x2="310.9" y2="395.5" stroke="#333333" stroke-width="1"/>
<text x="307.3" y="398.15" font-size="7.8" text-anchor="end" fill="#222222">400</text>
<line x1="308.8" y1="374.05" x2="310.9" y2="374.05" stroke="#333333" stroke-width="1"/>
<text x="307.3" y="376.7" font-size="7.8" text-anchor="end" fill="#222222">600</text>
<line x1="308.8" y1="352.6" x2="310.9" y2="352.6" stroke="#333333" stroke-width="1"/>
<text x="307.3" y="355.25" font-size="7.8" text-anchor="end" fill="#222222">800</text>
<line x1="309.5" y1="449.12" x2="310.9" y2="449.12" stroke="#333333" stroke-width="0.9"/>
<line x1="309.5" y1="427.67" x2="310.9" y2="427.67" stroke="#333333" stroke-width="0.9"/>
<line x1="309.5" y1="406.23" x2="310.9" y2="406.23" stroke="#333333" stroke-width="0.9"/>
<line x1="309.5" y1="384.77" x2="310.9" y2="384.77" stroke="#333333" stroke-width="0.9"/>
<line x1="309.5" y1="363.33" x2="310.9" y2="363.33" stroke="#333333" stroke-width="0.9"/>
<text x="377" y="472.5" font-size="11" font-weight="bold" stroke="#000" stroke-width="0.25" text-anchor="middle" textLength="41.7" lengthAdjust="spacingAndGlyphs">Strain (%)</text>
<text x="290.8" y="395.5" font-size="10.5" font-weight="bold" stroke="#000" stroke-width="0.25" text-anchor="middle" textLength="47.9" lengthAdjust="spacingAndGlyphs" transform="rotate(-90 290.8 395.5)">Stress (KPa)</text>
<text x="315.8" y="355.9" font-size="8.2" font-weight="bold" stroke="#000" stroke-width="0.12" textLength="36.9" lengthAdjust="spacingAndGlyphs">Gel-UPy-0.2</text>
<path d="M424.6 359.3C424.75 360.33 425.67 360.62 425.5 365.5C425.33 370.38 425.05 381.52 423.6 388.6C422.15 395.68 419.87 402.52 416.8 408C413.73 413.48 409.7 417.63 405.2 421.5C400.7 425.37 395.58 428.47 389.8 431.2C384.02 433.93 375.33 436.68 370.5 437.9C365.67 439.12 365.63 438.43 360.8 438.5C355.97 438.57 344.72 438.33 341.5 438.3" fill="none" stroke="#3a3ae6" stroke-width="1" stroke-linejoin="round" stroke-linecap="round"/>
<path d="M341.4 438.4C344.65 435.38 354.42 425.98 360.9 420.3C367.38 414.62 373.82 409.97 380.3 404.3C386.78 398.63 392.35 393.82 399.8 386.3C407.25 378.78 420.8 363.72 425 359.2" fill="none" stroke="#3a3ae6" stroke-width="1" stroke-linejoin="round" stroke-linecap="round"/>
<path d="M399.4 382.5C399.47 383.03 399.95 383.07 399.8 385.7C399.65 388.33 399.53 393.95 398.5 398.3C397.47 402.65 396.02 407.62 393.6 411.8C391.18 415.98 387.85 420.02 384 423.4C380.15 426.78 375.33 429.83 370.5 432.1C365.67 434.37 359.25 435.97 355 437C350.75 438.03 348.73 438.08 345 438.3C341.27 438.52 334.67 438.3 332.6 438.3" fill="none" stroke="#36a25a" stroke-width="1" stroke-linejoin="round" stroke-linecap="round"/>
<path d="M332.6 438.3C333.65 437 336.28 433.1 338.9 430.5C341.52 427.9 344.3 426 348.3 422.7C352.3 419.4 357.95 414.27 362.9 410.7C367.85 407.13 371.92 406 378 401.3C384.08 396.6 395.83 385.63 399.4 382.5" fill="none" stroke="#36a25a" stroke-width="1" stroke-linejoin="round" stroke-linecap="round"/>
<path d="M372.8 403.3C372.97 403.83 373.88 404.93 373.8 406.5C373.72 408.07 373.08 410.45 372.3 412.7C371.52 414.95 370.85 417.38 369.1 420C367.35 422.62 364.58 425.78 361.8 428.4C359.02 431.02 355.7 434.05 352.4 435.7C349.1 437.35 346.08 437.87 342 438.3C337.92 438.73 330.25 438.3 327.9 438.3" fill="none" stroke="#ff3030" stroke-width="1" stroke-linejoin="round" stroke-linecap="round"/>
<path d="M327.9 438.3C328.87 436.82 331.35 431.92 333.7 429.4C336.05 426.88 339.4 424.93 342 423.2C344.6 421.47 346.35 420.75 349.3 419C352.25 417.25 355.78 415.32 359.7 412.7C363.62 410.08 370.62 404.87 372.8 403.3" fill="none" stroke="#ff3030" stroke-width="1" stroke-linejoin="round" stroke-linecap="round"/>
<path d="M348.3 419.5C348.38 420.03 349.15 421.4 348.8 422.7C348.45 424 347.68 425.48 346.2 427.3C344.72 429.12 341.98 431.77 339.9 433.6C337.82 435.43 336.48 437.52 333.7 438.3C330.92 439.08 324.95 438.3 323.2 438.3" fill="none" stroke="#333" stroke-width="1" stroke-linejoin="round" stroke-linecap="round"/>
<path d="M323.2 438.3C324.07 437 326.32 432.77 328.4 430.5C330.48 428.23 333.27 426.27 335.7 424.7C338.13 423.13 340.9 421.97 343 421.1C345.1 420.23 347.42 419.77 348.3 419.5" fill="none" stroke="#333" stroke-width="1" stroke-linejoin="round" stroke-linecap="round"/>
<line x1="315.8" y1="365.2" x2="326.6" y2="365.2" stroke="#333" stroke-width="1.6"/>
<text x="330.8" y="368" font-size="8" font-weight="bold" fill="#1a1a1a" stroke="#000" stroke-width="0.12">1<tspan font-size="5.6" dy="-3.3">st</tspan><tspan dy="3.3"> cycle</tspan></text>
<line x1="315.8" y1="372.8" x2="326.6" y2="372.8" stroke="#ff3030" stroke-width="1.6"/>
<text x="330.8" y="375.6" font-size="8" font-weight="bold" fill="#1a1a1a" stroke="#000" stroke-width="0.12">2<tspan font-size="5.6" dy="-3.3">nd</tspan><tspan dy="3.3"> cycle</tspan></text>
<line x1="315.8" y1="380.9" x2="326.6" y2="380.9" stroke="#36a25a" stroke-width="1.6"/>
<text x="330.8" y="383.7" font-size="8" font-weight="bold" fill="#1a1a1a" stroke="#000" stroke-width="0.12">3<tspan font-size="5.6" dy="-3.3">rd</tspan><tspan dy="3.3"> cycle</tspan></text>
<line x1="315.8" y1="389.2" x2="326.6" y2="389.2" stroke="#3a3ae6" stroke-width="1.6"/>
<text x="330.8" y="392" font-size="8" font-weight="bold" fill="#1a1a1a" stroke="#000" stroke-width="0.12">4<tspan font-size="5.6" dy="-3.3">th</tspan><tspan dy="3.3"> cycle</tspan></text>
</svg></body></html>
